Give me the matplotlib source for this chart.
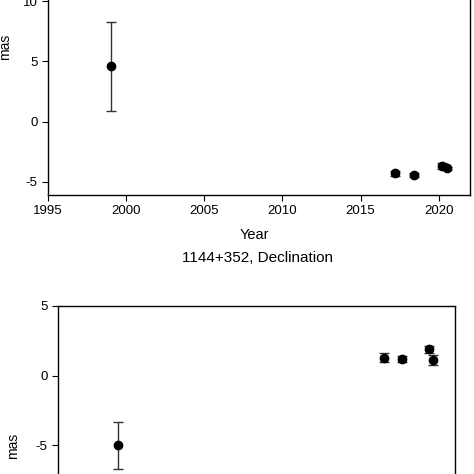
import matplotlib
matplotlib.use('Agg')
import matplotlib.pyplot as plt

plt.rcParams['font.family'] = ['Liberation Sans', 'DejaVu Sans']
plt.rcParams['axes.unicode_minus'] = False

# right ascension panel (top)
ra_year = [1999.0, 2017.2, 2018.4, 2020.2, 2020.5]
ra_mas = [4.6, -4.3, -4.45, -3.7, -3.9]
ra_err = [3.7, 0.2, 0.15, 0.25, 0.15]

# declination panel (bottom)
dec_year = [1999.1, 2017.2, 2018.4, 2020.2, 2020.5]
dec_mas = [-5.0, 1.3, 1.2, 1.9, 1.1]
dec_err = [1.7, 0.3, 0.2, 0.25, 0.35]

W = H = 474
fig = plt.figure(figsize=(4.74, 4.74), dpi=100)


def px_axes(l, t, r, b):
	return fig.add_axes([l / W, 1 - b / H, (r - l) / W, (b - t) / H])


ax1 = px_axes(48, -11, 470, 195)
ax2 = px_axes(58, 306, 455, 515)

for ax, x, y, e in [(ax1, ra_year, ra_mas, ra_err), (ax2, dec_year, dec_mas, dec_err)]:
	ax.errorbar(x, y, yerr=e, fmt='o', color='black', ms=6, ecolor='#333333',
		elinewidth=1, capsize=3.5, capthick=1)
	ax.set_xlim(1995, 2022)
	ax.set_xticks([1995, 2000, 2005, 2010, 2015, 2020])
	ax.set_yticks([-5, 0, 5, 10])
	ax.tick_params(labelsize=9.5, length=4, direction='out')
	for s in ax.spines.values():
		s.set_linewidth(1)
	ax.set_ylabel('mas', fontsize=10)

ax1.set_ylim(-6.1, 11)
ax2.set_ylim(-10, 5)
ax1.yaxis.set_label_coords(-0.085, 0.72)
ax2.yaxis.set_label_coords(-0.095, 0.33)
ax1.set_xlabel('Year', fontsize=10.5)
ax1.xaxis.set_label_coords(0.49, -0.16)
fig.text(257 / W, 1 - 258 / H, '1144+352, Declination', ha='center', va='center', fontsize=11)

fig.savefig('out.png', dpi=100)
